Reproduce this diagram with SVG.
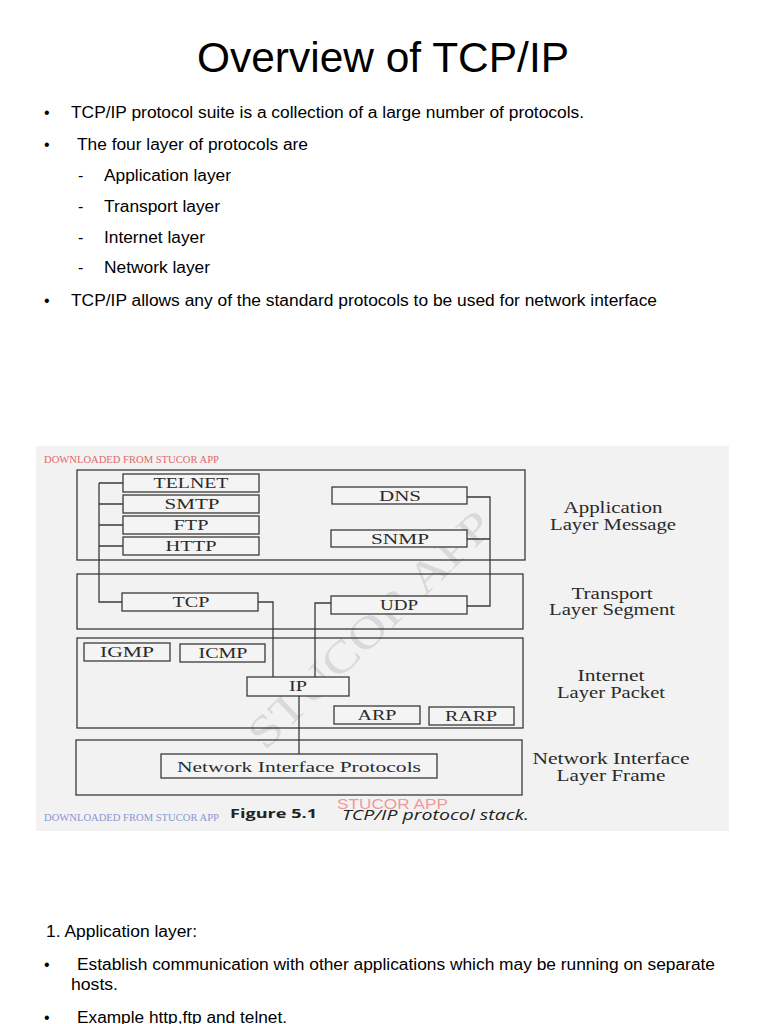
<svg xmlns="http://www.w3.org/2000/svg" width="768" height="1024" viewBox="0 0 768 1024">
<style>
.s{font-family:"Liberation Sans",Arial,sans-serif;font-size:16px;fill:#000}
.h{font-family:"Liberation Sans",Arial,sans-serif;font-size:42px;fill:#000;text-anchor:middle}
.box{fill:none;stroke:#3a3a3a;stroke-width:1.3}
.ib{fill:#f4f4f4;stroke:#3a3a3a;stroke-width:1.3}
.t{font-family:"Liberation Serif","Times New Roman",serif;font-size:15px;fill:#2a2a2a}
.l{font-family:"Liberation Serif","Times New Roman",serif;font-size:16px;fill:#2a2a2a;text-anchor:middle}
.c{fill:none;stroke:#3a3a3a;stroke-width:1.3}
</style>
<rect width="768" height="1024" fill="#ffffff"/>
<g id="slide-text">
<text class="h" x="383" y="72" textLength="372" lengthAdjust="spacingAndGlyphs">Overview of TCP/IP</text>
<text class="s" x="44" y="118">•</text>
<text class="s" x="71" y="118" textLength="513" lengthAdjust="spacingAndGlyphs">TCP/IP protocol suite is a collection of a large number of protocols.</text>
<text class="s" x="44" y="150">•</text>
<text class="s" x="77" y="150" textLength="231" lengthAdjust="spacingAndGlyphs">The four layer of protocols are</text>
<text class="s" x="78" y="181">-</text>
<text class="s" x="104" y="181" textLength="127" lengthAdjust="spacingAndGlyphs">Application layer</text>
<text class="s" x="78" y="212">-</text>
<text class="s" x="104" y="212" textLength="116" lengthAdjust="spacingAndGlyphs">Transport layer</text>
<text class="s" x="78" y="243">-</text>
<text class="s" x="104" y="243" textLength="101" lengthAdjust="spacingAndGlyphs">Internet layer</text>
<text class="s" x="78" y="273">-</text>
<text class="s" x="104" y="273" textLength="106" lengthAdjust="spacingAndGlyphs">Network layer</text>
<text class="s" x="44" y="306">•</text>
<text class="s" x="71" y="306" textLength="586" lengthAdjust="spacingAndGlyphs">TCP/IP allows any of the standard protocols to be used for network interface</text>
<text class="s" x="46" y="937" textLength="151" lengthAdjust="spacingAndGlyphs">1. Application layer:</text>
<text class="s" x="44" y="970">•</text>
<text class="s" x="77" y="970" textLength="638" lengthAdjust="spacingAndGlyphs">Establish communication with other applications which may be running on separate</text>
<text class="s" x="71" y="990" textLength="47" lengthAdjust="spacingAndGlyphs">hosts.</text>
<text class="s" x="44" y="1023">•</text>
<text class="s" x="77" y="1023" textLength="210" lengthAdjust="spacingAndGlyphs">Example http,ftp and telnet.</text>
</g>
<rect id="figure-bg" x="36" y="446" width="693" height="385" fill="#f2f2f2"/>
<text x="380" y="640" transform="rotate(-44 380 640)" font-family="'Liberation Serif',serif" font-size="44" fill="#d9d9d9" text-anchor="middle" textLength="320" lengthAdjust="spacingAndGlyphs">STUCOR APP</text>
<g id="layers">
<g id="application-layer"><rect class="box" x="77" y="470" width="448" height="90"/><text class="l" x="613" y="513" textLength="99" lengthAdjust="spacingAndGlyphs">Application</text><text class="l" x="613" y="530" textLength="126" lengthAdjust="spacingAndGlyphs">Layer Message</text></g>
<g id="transport-layer"><rect class="box" x="77" y="574" width="446" height="55"/><text class="l" x="612" y="599" textLength="81" lengthAdjust="spacingAndGlyphs">Transport</text><text class="l" x="612" y="615" textLength="126" lengthAdjust="spacingAndGlyphs">Layer Segment</text></g>
<g id="internet-layer"><rect class="box" x="77" y="638" width="446" height="90"/><text class="l" x="611" y="681" textLength="67" lengthAdjust="spacingAndGlyphs">Internet</text><text class="l" x="611" y="698" textLength="108" lengthAdjust="spacingAndGlyphs">Layer Packet</text></g>
<g id="network-layer"><rect class="box" x="76" y="740" width="446" height="55"/><text class="l" x="611" y="764" textLength="157" lengthAdjust="spacingAndGlyphs">Network Interface</text><text class="l" x="611" y="781" textLength="109" lengthAdjust="spacingAndGlyphs">Layer Frame</text></g>
</g>
<g id="connectors">
<path class="c" d="M99 483 V602 H122 M99 483 H123 M99 504 H123 M99 525 H123 M99 546 H123"/>
<path class="c" d="M467 497 H490 V606 H467 M467 539 H490"/>
<path class="c" d="M258 602 H273 V677"/>
<path class="c" d="M331 603 H315 V677"/>
<path class="c" d="M299 696 V754"/>
</g>
<g id="telnet"><rect class="ib" x="123" y="474" width="136" height="18"/><text class="t" x="191" y="488" text-anchor="middle" textLength="75" lengthAdjust="spacingAndGlyphs">TELNET</text></g>
<g id="smtp"><rect class="ib" x="123" y="495" width="136" height="18"/><text class="t" x="192" y="509" text-anchor="middle" textLength="55" lengthAdjust="spacingAndGlyphs">SMTP</text></g>
<g id="ftp"><rect class="ib" x="123" y="516" width="136" height="18"/><text class="t" x="191" y="530" text-anchor="middle" textLength="35" lengthAdjust="spacingAndGlyphs">FTP</text></g>
<g id="http"><rect class="ib" x="123" y="537" width="136" height="18"/><text class="t" x="191" y="551" text-anchor="middle" textLength="51" lengthAdjust="spacingAndGlyphs">HTTP</text></g>
<g id="dns"><rect class="ib" x="332" y="487" width="135" height="17"/><text class="t" x="400" y="501" text-anchor="middle" textLength="42" lengthAdjust="spacingAndGlyphs">DNS</text></g>
<g id="snmp"><rect class="ib" x="331" y="530" width="136" height="17"/><text class="t" x="400" y="544" text-anchor="middle" textLength="58" lengthAdjust="spacingAndGlyphs">SNMP</text></g>
<g id="tcp"><rect class="ib" x="122" y="593" width="136" height="18"/><text class="t" x="191" y="607" text-anchor="middle" textLength="37" lengthAdjust="spacingAndGlyphs">TCP</text></g>
<g id="udp"><rect class="ib" x="331" y="596" width="136" height="18"/><text class="t" x="399" y="610" text-anchor="middle" textLength="38" lengthAdjust="spacingAndGlyphs">UDP</text></g>
<g id="igmp"><rect class="ib" x="84" y="643" width="86" height="18"/><text class="t" x="127" y="657" text-anchor="middle" textLength="54" lengthAdjust="spacingAndGlyphs">IGMP</text></g>
<g id="icmp"><rect class="ib" x="180" y="644" width="85" height="18"/><text class="t" x="223" y="658" text-anchor="middle" textLength="49" lengthAdjust="spacingAndGlyphs">ICMP</text></g>
<g id="ip"><rect class="ib" x="247" y="677" width="102" height="19"/><text class="t" x="298" y="691" text-anchor="middle" textLength="18" lengthAdjust="spacingAndGlyphs">IP</text></g>
<g id="arp"><rect class="ib" x="334" y="706" width="86" height="18"/><text class="t" x="377" y="720" text-anchor="middle" textLength="39" lengthAdjust="spacingAndGlyphs">ARP</text></g>
<g id="rarp"><rect class="ib" x="429" y="707" width="85" height="18"/><text class="t" x="471" y="721" text-anchor="middle" textLength="52" lengthAdjust="spacingAndGlyphs">RARP</text></g>
<g id="nip"><rect class="ib" x="161" y="754" width="276" height="24"/><text class="t" x="299" y="772" text-anchor="middle" textLength="244" lengthAdjust="spacingAndGlyphs">Network Interface Protocols</text></g>
<g id="captions">
<text x="44" y="463" font-family="'Liberation Serif',serif" font-size="10" fill="#e06a6a" textLength="175" lengthAdjust="spacingAndGlyphs">DOWNLOADED FROM STUCOR APP</text>
<text x="44" y="821" font-family="'Liberation Serif',serif" font-size="10" fill="#8a96d4" textLength="175" lengthAdjust="spacingAndGlyphs">DOWNLOADED FROM STUCOR APP</text>
<text x="230" y="818" font-family="'Open Sans',sans-serif" font-size="13" font-weight="bold" fill="#222" textLength="87" lengthAdjust="spacingAndGlyphs">Figure 5.1</text>
<text x="342" y="820" font-family="'Open Sans',sans-serif" font-size="14" font-style="italic" fill="#222" textLength="187" lengthAdjust="spacingAndGlyphs">TCP/IP protocol stack.</text>
<text x="337" y="809" font-family="'Liberation Sans',sans-serif" font-size="14" fill="#f07a7a" fill-opacity="0.75" textLength="111" lengthAdjust="spacingAndGlyphs">STUCOR APP</text>
</g>
</svg>
